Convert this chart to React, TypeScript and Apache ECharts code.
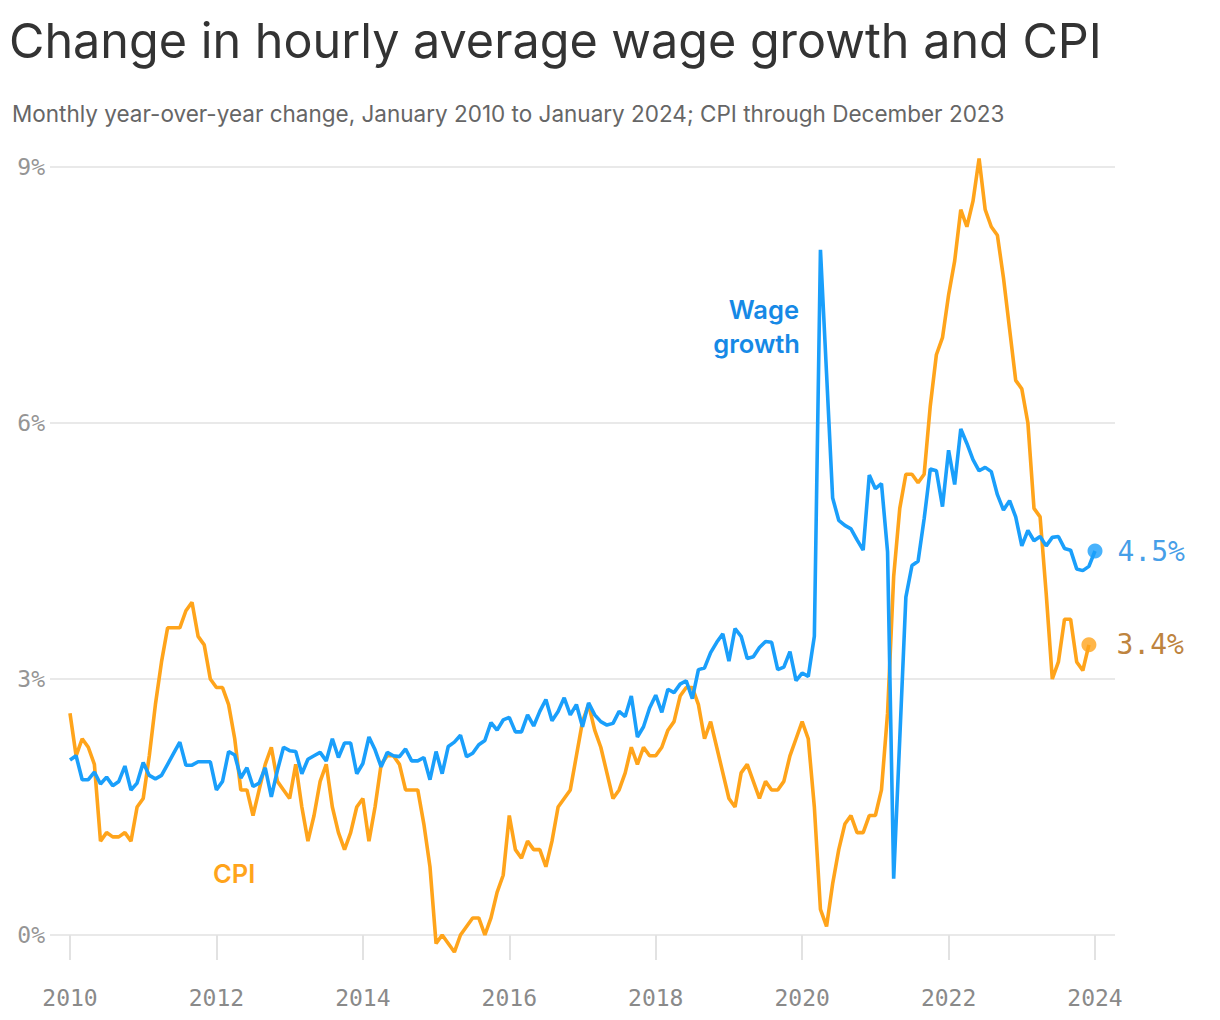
import React, { useEffect, useRef } from "react";
import * as echarts from "echarts";

// Monthly YoY change (%), Jan 2010 .. Jan 2024 (wages) / Dec 2023 (CPI)
const wageGrowth: number[] = [
    2.05, 2.1, 1.82, 1.82, 1.91, 1.77, 1.85, 1.75, 1.8, 1.98, 1.7, 1.78,
    2.02, 1.87, 1.83, 1.87, 2.0, 2.13, 2.26, 1.99, 1.99, 2.03, 2.03, 2.03,
    1.7, 1.8, 2.15, 2.11, 1.84, 1.96, 1.74, 1.78, 1.96, 1.62, 1.93, 2.2,
    2.16, 2.15, 1.89, 2.06, 2.1, 2.14, 2.04, 2.3, 2.08, 2.25, 2.25, 1.89,
    2.01, 2.32, 2.17, 1.97, 2.14, 2.1, 2.09, 2.18, 2.04, 2.04, 2.08, 1.82,
    2.15, 1.89, 2.21, 2.26, 2.34, 2.09, 2.13, 2.23, 2.28, 2.49, 2.4, 2.52,
    2.55, 2.38, 2.38, 2.58, 2.45, 2.62, 2.76, 2.51, 2.62, 2.78, 2.58, 2.7,
    2.44, 2.72, 2.58, 2.5, 2.46, 2.48, 2.62, 2.56, 2.8, 2.32, 2.44, 2.66,
    2.81, 2.61, 2.88, 2.84, 2.94, 2.98, 2.77, 3.11, 3.13, 3.31, 3.43, 3.53,
    3.21, 3.59, 3.5, 3.24, 3.26, 3.37, 3.44, 3.43, 3.11, 3.14, 3.32, 2.98,
    3.07, 3.03, 3.5, 8.03, 6.58, 5.12, 4.86, 4.8, 4.76, 4.63, 4.51, 5.39,
    5.23, 5.29, 4.49, 0.66, 2.3, 3.96, 4.33, 4.38, 4.88, 5.46, 5.44, 5.02,
    5.68, 5.28, 5.93, 5.76, 5.57, 5.44, 5.48, 5.43, 5.16, 4.98, 5.09, 4.9,
    4.56, 4.74, 4.62, 4.67, 4.56, 4.66, 4.67, 4.53, 4.51, 4.29, 4.27, 4.32,
    4.5,
];

const cpi: number[] = [
    2.6, 2.1, 2.3, 2.2, 2.0, 1.1, 1.2, 1.15, 1.15, 1.2, 1.1, 1.5,
    1.6, 2.1, 2.7, 3.2, 3.6, 3.6, 3.6, 3.8, 3.9, 3.5, 3.4, 3.0,
    2.9, 2.9, 2.7, 2.3, 1.7, 1.7, 1.4, 1.7, 2.0, 2.2, 1.8, 1.7,
    1.6, 2.0, 1.5, 1.1, 1.4, 1.8, 2.0, 1.5, 1.2, 1.0, 1.2, 1.5,
    1.6, 1.1, 1.5, 2.0, 2.1, 2.1, 2.0, 1.7, 1.7, 1.7, 1.3, 0.8,
    -0.1, 0.0, -0.1, -0.2, 0.0, 0.1, 0.2, 0.2, 0.0, 0.2, 0.5, 0.7,
    1.4, 1.0, 0.9, 1.1, 1.0, 1.0, 0.8, 1.1, 1.5, 1.6, 1.7, 2.1,
    2.5, 2.7, 2.4, 2.2, 1.9, 1.6, 1.7, 1.9, 2.2, 2.0, 2.2, 2.1,
    2.1, 2.2, 2.4, 2.5, 2.8, 2.9, 2.9, 2.7, 2.3, 2.5, 2.2, 1.9,
    1.6, 1.5, 1.9, 2.0, 1.8, 1.6, 1.8, 1.7, 1.7, 1.8, 2.1, 2.3,
    2.5, 2.3, 1.5, 0.3, 0.1, 0.6, 1.0, 1.3, 1.4, 1.2, 1.2, 1.4,
    1.4, 1.7, 2.6, 4.2, 5.0, 5.4, 5.4, 5.3, 5.4, 6.2, 6.8, 7.0,
    7.5, 7.9, 8.5, 8.3, 8.6, 9.1, 8.5, 8.3, 8.2, 7.7, 7.1, 6.5,
    6.4, 6.0, 5.0, 4.9, 4.0, 3.0, 3.2, 3.7, 3.7, 3.2, 3.1, 3.4,
];

const startYear = 2010;
const yearTicks = [2010, 2012, 2014, 2016, 2018, 2020, 2022, 2024];
const pctTicks = [0, 3, 6, 9];

const BLUE = "#1a9ffb";
const BLUE_TEXT = "#1689e6";
const ORANGE = "#ffa41b";
const MONO = "'DejaVu Sans Mono', monospace";
const SANS = "Inter, 'Noto Sans', sans-serif";

const toPoints = (arr: number[]) => arr.map((v, i) => [startYear + i / 12, v]);

const App: React.FC = () => {
    const ref = useRef<HTMLDivElement | null>(null);

    useEffect(() => {
        if (!ref.current) return;
        document.body.style.margin = "0";
        const chart = echarts.init(ref.current, null, { renderer: "svg" });

        const wagePts = toPoints(wageGrowth);
        const cpiPts = toPoints(cpi);

        // value label to the right of the end dot
        const endLabel = (color: string, distance: number) => ({
            show: true,
            position: "right",
            distance,
            fontFamily: MONO,
            fontSize: 28,
            color,
            formatter: (p: any) => p.value[1].toFixed(1) + "%",
        });

        const option: echarts.EChartsCoreOption = {
            animation: false,
            backgroundColor: "#fff",
            title: [
                {
                    text: "Change in hourly average wage growth and CPI",
                    left: 4,
                    top: 11,
                    textStyle: { fontFamily: SANS, fontSize: 48.5, fontWeight: 400, color: "#333" },
                },
                {
                    text: "Monthly year-over-year change, January 2010 to January 2024; CPI through December 2023",
                    left: 7,
                    top: 97,
                    textStyle: { fontFamily: SANS, fontSize: 22.5, fontWeight: 400, color: "#666" },
                },
            ],
            grid: { left: 50, right: 105, top: 167, bottom: 85 },
            xAxis: {
                type: "value",
                min: 2009.727,
                max: 2024.273,
                offset: 17,
                axisLine: { show: false },
                splitLine: { show: false },
                axisTick: {
                    show: true,
                    length: 25,
                    customValues: yearTicks,
                    lineStyle: { color: "#e2e2e2", width: 2 },
                },
                axisLabel: {
                    customValues: yearTicks,
                    margin: 34,
                    fontFamily: MONO,
                    fontSize: 23,
                    color: "#8a8a8a",
                    formatter: (v: number) => String(Math.round(v)),
                },
            },
            yAxis: {
                type: "value",
                min: 0,
                max: 9,
                interval: 3,
                axisLine: { show: false },
                axisTick: { show: false },
                splitLine: { lineStyle: { color: "#e2e2e2", width: 1.5 } },
                axisLabel: {
                    margin: 5,
                    fontFamily: MONO,
                    fontSize: 23,
                    color: "#959595",
                    formatter: (v: number) => (pctTicks.includes(v) ? v + "%" : ""),
                },
            },
            series: [
                {
                    type: "line",
                    name: "CPI",
                    data: cpiPts,
                    showSymbol: false,
                    clip: false,
                    lineStyle: { color: ORANGE, width: 3.6 },
                    z: 2,
                },
                {
                    type: "line",
                    name: "Wage growth",
                    data: wagePts,
                    showSymbol: false,
                    clip: false,
                    lineStyle: { color: BLUE, width: 3.6 },
                    z: 3,
                },
                {
                    type: "scatter",
                    data: [cpiPts[cpiPts.length - 1]],
                    symbolSize: 15,
                    itemStyle: { color: ORANGE },
                    label: endLabel("#ac6208", 20),
                    z: 4,
                },
                {
                    type: "scatter",
                    data: [wagePts[wagePts.length - 1]],
                    symbolSize: 15,
                    itemStyle: { color: BLUE },
                    label: endLabel("#1385e2", 15),
                    z: 4,
                },
            ],
            graphic: [
                {
                    type: "text",
                    right: 1220 - 799,
                    top: 296,
                    style: {
                        text: "Wage",
                        textAlign: "right",
                        fontFamily: SANS,
                        fontSize: 25.5,
                        fontWeight: 600,
                        fill: BLUE_TEXT,
                    },
                },
                {
                    type: "text",
                    right: 1220 - 800,
                    top: 330,
                    style: {
                        text: "growth",
                        textAlign: "right",
                        fontFamily: SANS,
                        fontSize: 25.5,
                        fontWeight: 600,
                        fill: BLUE_TEXT,
                    },
                },
                {
                    type: "text",
                    left: 213,
                    top: 860,
                    style: {
                        text: "CPI",
                        fontFamily: SANS,
                        fontSize: 25.5,
                        fontWeight: 600,
                        fill: ORANGE,
                    },
                },
            ],
        };

        chart.setOption(option);
        return () => chart.dispose();
    }, []);

    return <div ref={ref} style={{ width: 1220, height: 1020 }} />;
};

export default App;
